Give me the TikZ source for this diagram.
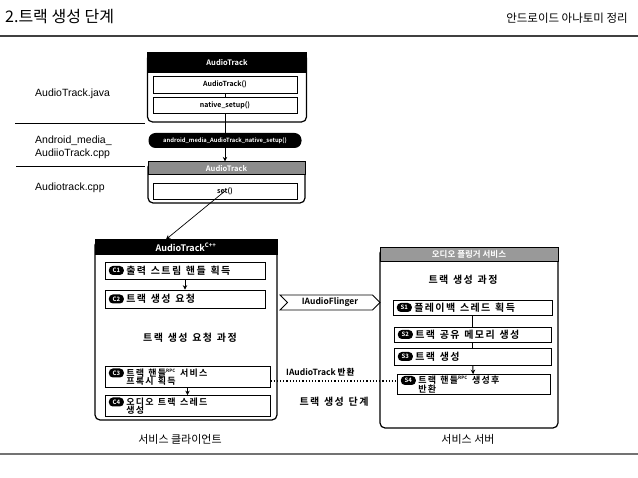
\documentclass[tikz,border=0pt]{standalone}
\usepackage{fontspec}
\setmainfont{Noto Sans CJK KR}[BoldFont={Noto Sans CJK KR Bold}]
\newfontfamily\arial{Liberation Sans}
\newfontfamily\scan{Noto Sans CJK KR Bold}[LetterSpace=14, WordSpace=1.3]
\newcommand{\rpc}{\textsuperscript{\addfontfeatures{LetterSpace=0}\fontsize{4.5}{5}\selectfont RPC}}
\usetikzlibrary{shapes.symbols}
\usetikzlibrary{positioning, arrows.meta}

\begin{document}
\begin{tikzpicture}[x=1pt, y=-1pt, >={Stealth[length=4.5pt, width=4.5pt]},
	box/.style={draw, line width=0.7pt, minimum height=16pt, inner sep=0pt, font=\bfseries\fontsize{7}{8}\selectfont},
	panel/.style={draw, line width=1.2pt, rounded corners=5pt, inner sep=0pt},
	head/.style={draw, fill=black, text=white, inner sep=0pt, anchor=north, font=\bfseries\fontsize{7.5}{8}\selectfont},
	tag/.style={fill=black, text=white, rounded corners=4pt, inner sep=0pt, minimum width=15pt, minimum height=9pt, font=\bfseries\fontsize{6}{6}\selectfont},
	steptext/.style={font=\scan\fontsize{10}{9.2}\selectfont, align=left, inner sep=0pt},
	twoline/.style={steptext, anchor=west, font=\scan\fontsize{9}{8.6}\selectfont},
	side/.style={anchor=west, align=left, inner sep=0pt, font=\arial\fontsize{10.5}{13}\selectfont}]
	\useasboundingbox (0,0) rectangle (638,478);

	\node[anchor=west, inner sep=0pt, font=\fontsize{16}{18}\selectfont] (title) at (5,17) {2.트랙 생성 단계};
	\node[anchor=east, inner sep=0pt, font=\fontsize{11.5}{13}\selectfont] (book) at (628,18) {안드로이드 아나토미 정리};
	\draw[line width=1.2pt, black!75] (0,36) -- (638,36);
	\draw[line width=2pt, black!55] (0,454) -- (638,454);

	\node[side] (javafile) at (35,94) {AudioTrack.java};
	\draw[line width=0.9pt] (15,123) -- (145,123);
	\node[side] (jnifile) at (35,147) {Android\_media\_\\AudiioTrack.cpp};
	\draw[line width=0.9pt] (16,166) -- (145,166);
	\node[side] (cppfile) at (35,188) {Audiotrack.cpp};

	\node[panel, minimum width=159pt, minimum height=69pt] (java) at (227,87.5) {};
	\node[head, minimum width=159pt, minimum height=20pt] (javahead) at (java.north) {AudioTrack};
	\node[box, minimum width=144pt, minimum height=17pt] (ctor) at (225,84.5) {AudioTrack()};
	\node[box, minimum width=144pt] (setup) at (225,105) {native\_setup()};
	\draw[line width=0.8pt] (ctor) -- (setup);
	\node[fill=black, text=white, rounded corners=7pt, minimum width=153pt, minimum height=15pt, inner sep=0pt, font=\bfseries\fontsize{5.8}{6}\selectfont] (jni) at (225,140.5) {android\_media\_AudioTrack\_native\_setup()};
	\draw[line width=0.8pt] (setup) -- (jni);
	\node[panel, minimum width=157pt, minimum height=41pt] (native) at (226.5,182.5) {};
	\node[head, fill=black!45, minimum width=157pt, minimum height=13pt] (nativehead) at (native.north) {AudioTrack};
	\draw[line width=0.8pt, ->] (jni) -- (nativehead.north -| jni);
	\node[box, minimum width=144pt] (set) at (225,191) {set()};

	\node[panel, minimum width=182pt, minimum height=180pt] (client) at (186,330) {};
	\node[head, minimum width=182pt, minimum height=15pt, font=\bfseries\fontsize{9}{10}\selectfont] (clienthead) at (client.north) {AudioTrack\textsuperscript{C++}};
	\draw[line width=0.7pt, ->] (set.center) -- ([xshift=-20pt]client.north);

	\node[box, minimum width=160pt, minimum height=17pt] (c1) at (185,270.5) {};
	\node[tag, right=4pt of c1.west] (c1tag) {C1};
	\node[steptext, right=2pt of c1tag] (c1text) {출력 스트림 핸들 획득};
	\node[box, minimum width=160pt, minimum height=18pt] (c2) at (185,299) {};
	\node[tag, right=4pt of c2.west] (c2tag) {C2};
	\node[steptext, right=2pt of c2tag] (c2text) {트랙 생성 요청};
	\draw[line width=1pt, ->] (c1) -- (c2);
	\node[steptext] (request) at (190,338) {트랙 생성 요청 과정};
	\node[box, minimum width=165pt, minimum height=21pt] (c3) at (187.5,377) {};
	\node[tag, right=4pt of c3.west, yshift=4pt] (c3tag) {C3};
	\node[twoline] (c3text) at ([xshift=2pt]c3.west -| c3tag.east) {트랙 핸들\rpc\ 서비스\\프록시 획득};
	\node[box, minimum width=165pt, minimum height=21pt] (c4) at (187.5,406) {};
	\node[tag, right=4pt of c4.west, yshift=4pt] (c4tag) {C4};
	\node[twoline] (c4text) at ([xshift=2pt]c4.west -| c4tag.east) {오디오 트랙 스레드\\생성};
	\draw[line width=1pt, ->] (c3) -- (c4);

	\node[panel, minimum width=178pt, minimum height=180pt] (server) at (469,338) {};
	\node[head, fill=black!40, text=white, minimum width=178pt, minimum height=14pt, font=\bfseries\fontsize{8.5}{9}\selectfont] (serverhead) at (server.north) {오디오 플링거 서비스};
	\node[steptext] (create) at (463,280) {트랙 생성 과정};
	\node[box, minimum width=159pt, minimum height=15pt] (s1) at (472.5,307.5) {};
	\node[tag, right=4pt of s1.west] (s1tag) {S1};
	\node[steptext, right=2pt of s1tag] (s1text) {플레이백 스레드 획득};
	\node[box, minimum width=157pt, minimum height=15pt] (s2) at (472.5,334.5) {};
	\node[tag, right=4pt of s2.west] (s2tag) {S2};
	\node[steptext, right=2pt of s2tag] (s2text) {트랙 공유 메모리 생성};
	\node[box, minimum width=157pt, minimum height=17pt] (s3) at (472.5,356.5) {};
	\node[tag, right=4pt of s3.west] (s3tag) {S3};
	\node[steptext, right=2pt of s3tag] (s3text) {트랙 생성};
	\node[box, minimum width=153pt, minimum height=20pt] (s4) at (473.5,384.5) {};
	\node[tag, right=4pt of s4.west, yshift=4pt] (s4tag) {S4};
	\node[twoline] (s4text) at ([xshift=2pt]s4.west -| s4tag.east) {트랙 핸들\rpc\ 생성후\\반환};
	\draw[line width=1pt] (s1) -- (s2);
	\draw[line width=1pt] (s2) -- (s3);
	\draw[line width=1pt, ->] (s3) -- (s4);

	\node[draw, line width=0.8pt, signal, signal from=west, signal to=east, minimum width=100pt, minimum height=15pt, inner sep=1pt, font=\bfseries\fontsize{8.5}{9}\selectfont] (flinger) at (330,302.5) {IAudioFlinger};
	\draw[line width=1.2pt, dotted] (c3.east |- 0,381) -- (s4.west |- 0,381);
	\node[anchor=west, inner sep=0pt, font=\bfseries\fontsize{8.5}{9}\selectfont] (back) at (286,372) {IAudioTrack\ {\scan 반환}};
	\node[steptext] (stage) at (334,402) {트랙 생성 단계};

	\node[font=\fontsize{11}{13}\selectfont, inner sep=0pt] (clientname) at (180,439) {서비스 클라이언트};
	\node[font=\fontsize{11}{13}\selectfont, inner sep=0pt] (servername) at (468,439) {서비스 서버};
\end{tikzpicture}
\end{document}
